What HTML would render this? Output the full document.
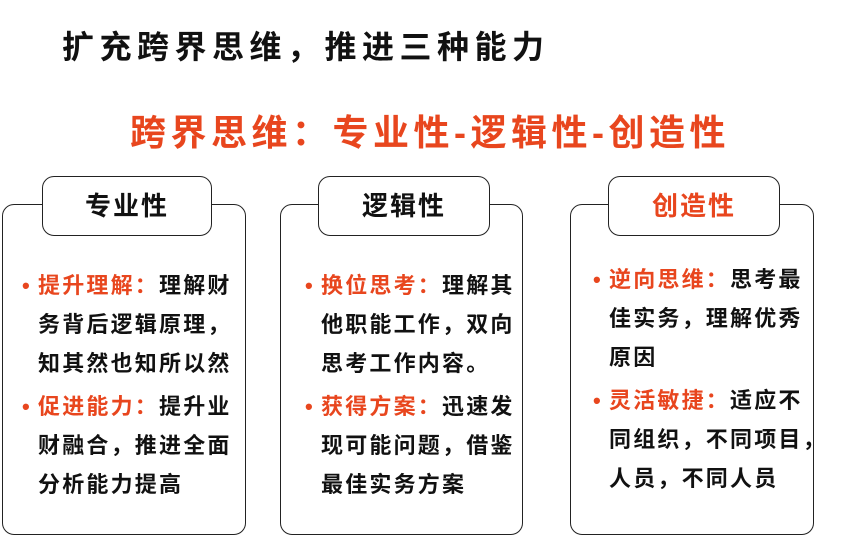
<!DOCTYPE html>
<html><head><meta charset="utf-8"><style>
body{margin:0;width:854px;height:552px;background:#fff;position:relative;font-family:"Liberation Sans","Noto Sans CJK SC",sans-serif;font-weight:bold;overflow:hidden}
.a{position:absolute;white-space:nowrap}
.box{position:absolute;border:1.5px solid #222;border-radius:12px;background:#fff}
.tab{position:absolute;border:1.5px solid #222;border-radius:12px;background:#fff;text-align:center;font-size:26px;letter-spacing:2px;line-height:58px;color:#111}
.txt{position:absolute;font-size:22px;letter-spacing:2.2px;line-height:39px;color:#111;white-space:nowrap}
.r{color:#e8461e}
.b{color:#e8461e;display:inline-block;width:16px;margin-left:-16px}
p{margin:0}
</style></head><body>
<div class="a" style="left:62px;top:22px;font-size:32px;letter-spacing:5.5px;color:#111">扩充跨界思维，推进三种能力</div>
<div class="a" style="left:130px;top:104px;font-size:36px;letter-spacing:4.5px;color:#e8461e">跨界思维：专业性-逻辑性-创造性</div>

<div class="box" style="left:2px;top:204px;width:242px;height:329px"></div>
<div class="tab" style="left:42px;top:176px;width:168px;height:58px">专业性</div>
<div class="txt" style="left:38px;top:266px">
<p><span class="b">•</span><span class="r">提升理解：</span>理解财<br>务背后逻辑原理，<br>知其然也知所以然</p>
<p style="margin-top:4px"><span class="b">•</span><span class="r">促进能力：</span>提升业<br>财融合，推进全面<br>分析能力提高</p></div>

<div class="box" style="left:280px;top:204px;width:241px;height:329px"></div>
<div class="tab" style="left:318px;top:176px;width:170px;height:58px">逻辑性</div>
<div class="txt" style="left:321px;top:266px">
<p><span class="b">•</span><span class="r">换位思考：</span>理解其<br>他职能工作，双向<br>思考工作内容。</p>
<p style="margin-top:4px"><span class="b">•</span><span class="r">获得方案：</span>迅速发<br>现可能问题，借鉴<br>最佳实务方案</p></div>

<div class="box" style="left:570px;top:204px;width:242px;height:329px"></div>
<div class="tab" style="left:608px;top:176px;width:170px;height:58px;color:#e8461e">创造性</div>
<div class="txt" style="left:609px;top:260px">
<p><span class="b">•</span><span class="r">逆向思维：</span>思考最<br>佳实务，理解优秀<br>原因</p>
<p style="margin-top:4px"><span class="b">•</span><span class="r">灵活敏捷：</span>适应不<br>同组织，不同项目，<br>人员，不同人员</p></div>
</body></html>
